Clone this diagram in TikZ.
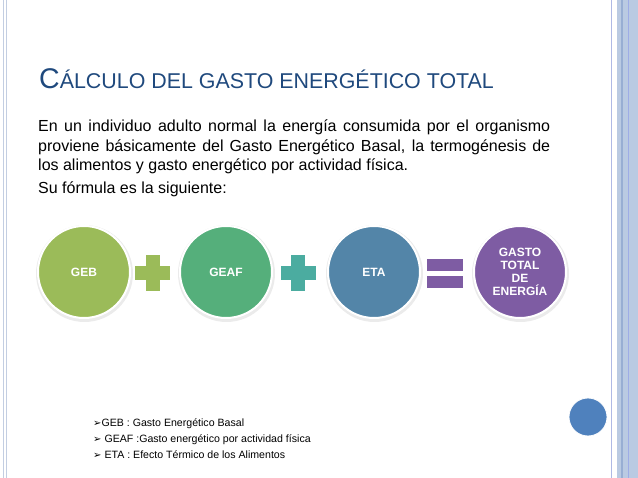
\documentclass[tikz,border=0pt]{standalone}
\usepackage{fontspec}
\setmainfont{Liberation Sans}
\newfontfamily\symfont{DejaVu Sans}
\definecolor{titleblue}{HTML}{1F497D}
\definecolor{geb}{HTML}{9BBB59}
\definecolor{geaf}{HTML}{55AF7B}
\definecolor{teal}{HTML}{4BACA0}
\definecolor{eta}{HTML}{5385A8}
\definecolor{purp}{HTML}{7E5CA3}
\definecolor{bandlight}{HTML}{BACAE2}
\definecolor{banddark}{HTML}{98AED3}
\definecolor{lineblue}{HTML}{C3CEE2}
\definecolor{dotblue}{HTML}{4F81BD}
\begin{document}
\begin{tikzpicture}[x=1pt,y=-1pt,
  bubble/.style={circle, draw=white, line width=2pt, minimum size=92pt, inner sep=0pt,
    text=white, font=\fontsize{12}{13}\selectfont\bfseries, align=center},
  bodytext/.style={anchor=base west, inner sep=0pt, font=\fontsize{16}{20}\selectfont},
  listtext/.style={anchor=base west, inner sep=0pt, font=\fontsize{10.6}{13}\selectfont},
  plussign/.pic={
    \path[pic actions] (-17.5,-7) rectangle (17.5,7);
    \path[pic actions] (-7,-18) rectangle (7,18);
  },
  equalsign/.pic={
    \path[pic actions] (-18,-14.5) rectangle (18,-2.5);
    \path[pic actions] (-18,2.5) rectangle (18,14.5);
  }]
\useasboundingbox (0,0) rectangle (638,478);
\fill[white] (0,0) rectangle (638,478);
% left frame lines
\draw[lineblue, line width=1pt] (3.5,0) -- (3.5,478);
\draw[lineblue, line width=1.2pt] (6.3,0) -- (6.3,478);
% right band
\draw[lineblue!90!blue, line width=1.5pt] (611.5,0) -- (611.5,478);
\fill[bandlight] (617,0) rectangle (638,478);
\draw[banddark, line width=2pt] (621.8,0) -- (621.8,478);
\draw[bandlight!85!blue, line width=1pt] (628,0) -- (628,478);
% title
\node[anchor=base west, inner sep=0pt, text=titleblue] (title) at (39,89)
  {{\fontsize{28.5}{28.5}\selectfont C}{\fontsize{21.4}{21.4}\selectfont ÁLCULO DEL GASTO ENERGÉTICO TOTAL}};
% body
\node[bodytext] (l1) at (38,131.5) {\makebox[512pt][s]{En un individuo adulto normal la energía consumida por el organismo}};
\node[bodytext] (l2) at (38,151.5) {\makebox[512pt][s]{proviene básicamente del Gasto Energético Basal, la termogénesis de}};
\node[bodytext] (l3) at (38,171) {los alimentos y gasto energético por actividad física.};
\node[bodytext] (l4) at (38,194) {Su fórmula es la siguiente:};
% formula
\foreach \cx in {84,226,374,520}
  \fill[black, opacity=0.08] (\cx+0.5,273.5) circle (48.5);
\node[bubble, fill=geb] (geb) at (84,272) {GEB};
\node[bubble, fill=geaf] (geaf) at (226,272) {GEAF};
\node[bubble, fill=eta] (eta) at (374,272) {ETA};
\node[bubble, fill=purp] (total) at (520,272) {GASTO\\TOTAL\\DE\\ENERGÍA};
\pic[fill=geb] at (152.5,273) {plussign};
\pic[fill=teal] at (298,273) {plussign};
\pic[fill=purp] at (445,274) {equalsign};
% list
\node[listtext] (d1) at (93,427) {{\symfont\fontsize{10}{10}\selectfont ➢}GEB : Gasto Energético Basal};
\node[listtext] (d2) at (93,443) {{\symfont\fontsize{10}{10}\selectfont ➢} GEAF :Gasto energético por actividad física};
\node[listtext] (d3) at (93,458.5) {{\symfont\fontsize{10}{10}\selectfont ➢} ETA : Efecto Térmico de los Alimentos};
% decorative dot
\node[circle, fill=dotblue, draw=white, line width=0.8pt, minimum size=38pt, inner sep=0pt] (dot) at (588,417) {};
\end{tikzpicture}
\end{document}
